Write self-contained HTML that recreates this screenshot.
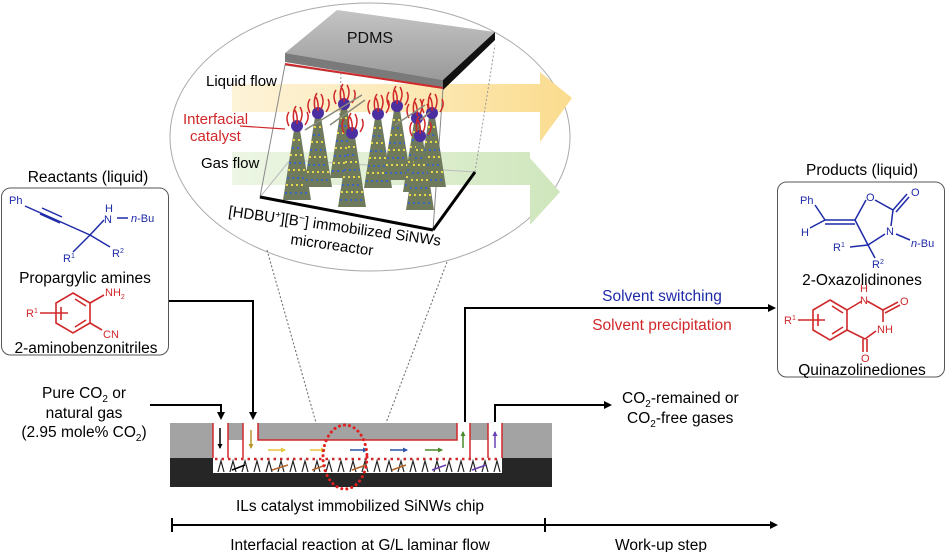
<!DOCTYPE html>
<html><head><meta charset="utf-8"><style>
html,body{margin:0;padding:0;background:#fff}
svg{display:block}
text{font-family:"Liberation Sans",Arial,sans-serif}
</style></head><body>
<svg width="946" height="552" viewBox="0 0 946 552" xmlns="http://www.w3.org/2000/svg">
<defs>
<linearGradient id="pd" x1="0" y1="0" x2="0" y2="1"><stop offset="0" stop-color="#c4c4c4"/><stop offset="1" stop-color="#9a9a9a"/></linearGradient>
<linearGradient id="yb" x1="0" y1="0" x2="1" y2="0"><stop offset="0" stop-color="#fbe7b0" stop-opacity="0.5"/><stop offset="1" stop-color="#fbdc8e"/></linearGradient>
<linearGradient id="gb" x1="0" y1="0" x2="1" y2="0"><stop offset="0" stop-color="#d9ecc8" stop-opacity="0.5"/><stop offset="1" stop-color="#cfe6bc"/></linearGradient>
<marker id="ah" markerWidth="8" markerHeight="8" refX="6" refY="4" orient="auto" markerUnits="userSpaceOnUse"><path d="M0,0 L8,4 L0,8 z" fill="#000"/></marker>
<marker id="sa" markerWidth="5" markerHeight="5" refX="4" refY="2.5" orient="auto" markerUnits="userSpaceOnUse"><path d="M0,0 L5,2.5 L0,5 z" fill="context-stroke"/></marker>
<g id="nw">
<path d="M-3,0 L3,0 L14,70 L-14,70 z" fill="#6f7a5c"/>
<path d="M-4,10 L4,10 M-7,25 L7,25 M-9,40 L9,40 M-11,55 L11,55" stroke="#e5d64a" stroke-width="2" stroke-dasharray="2,3"/>
<path d="M-5,18 L5,18 M-8,33 L8,33 M-10,48 L10,48 M-12,63 L12,63" stroke="#3a66c4" stroke-width="2" stroke-dasharray="2,3"/>
<circle cx="0" cy="-4" r="6" fill="#4b2fa0"/>
<path d="M-8,-4 q-4,-8 0,-14 M-3,-8 q-2,-10 2,-16 M3,-8 q4,-8 0,-15 M8,-5 q5,-7 2,-13 M0,-6 q1,-8 -2,-14" stroke="#d0282a" stroke-width="1.5" fill="none"/>
</g>
</defs>

<ellipse cx="370" cy="137" rx="200" ry="134" fill="#fff" stroke="#aaa" stroke-width="1"/>
<path d="M232,84 L540,84 L540,72 L572,98 L540,142 L540,112 L232,112 z" fill="url(#yb)"/>
<path d="M232,152 L530,152 L530,158 L560,192 L530,225 L530,185 L232,185 z" fill="url(#gb)"/>
<polygon points="285,65 443,88 433,230 260,197" fill="none" stroke="#888" stroke-width="1"/>
<polyline points="260,197 290,160 475,172" fill="none" stroke="#bbb" stroke-width="1"/>
<line x1="260" y1="197" x2="433" y2="230" stroke="#000" stroke-width="3"/>
<line x1="433" y1="230" x2="475" y2="172" stroke="#000" stroke-width="3"/>
<line x1="475" y1="172" x2="495" y2="45" stroke="#999" stroke-width="1" stroke-dasharray="2,2"/>
<line x1="341" y1="73" x2="338" y2="165" stroke="#999" stroke-width="1" stroke-dasharray="2,2"/>
<polygon points="337,10 495,32 443,80 285,53" fill="url(#pd)"/>
<polygon points="285,53 443,80 443,88 285,62" fill="#7a7a7a"/>
<polygon points="443,80 495,32 495,40 443,90" fill="#111"/>
<line x1="285" y1="64" x2="443" y2="88" stroke="#d0282a" stroke-width="2"/>
<text x="370" y="43" font-size="16" text-anchor="middle" fill="#111">PDMS</text>
<use href="#nw" x="297" y="130"/>
<use href="#nw" x="318" y="117"/>
<use href="#nw" x="344" y="108"/>
<use href="#nw" x="378" y="118"/>
<use href="#nw" x="397" y="110"/>
<use href="#nw" x="417" y="122"/>
<use href="#nw" x="432" y="117"/>
<use href="#nw" x="352" y="137"/>
<use href="#nw" x="420" y="140"/>
<g stroke="#8a8a7a" stroke-width="1.5"><line x1="305" y1="130" x2="362" y2="95"/><line x1="330" y1="125" x2="365" y2="100"/><line x1="395" y1="125" x2="425" y2="105"/><line x1="420" y1="120" x2="430" y2="112"/></g>
<text x="206" y="86" font-size="15">Liquid flow</text>
<text x="183" y="124" font-size="15" fill="#d0282a">Interfacial</text>
<text x="190" y="141" font-size="15" fill="#d0282a">catalyst</text>
<line x1="240" y1="126" x2="285" y2="129" stroke="#d0282a" stroke-width="1.2"/>
<text x="201" y="168" font-size="15">Gas flow</text>
<text x="228" y="216" font-size="15" transform="rotate(8 228 216)">[HDBU<tspan font-size="10" dy="-5">+</tspan><tspan dy="5">][B</tspan><tspan font-size="10" dy="-5">−</tspan><tspan dy="5">] immobilized SiNWs</tspan></text>
<text x="290" y="244" font-size="15" transform="rotate(8 290 244)">microreactor</text>

<line x1="267" y1="250" x2="326" y2="458" stroke="#666" stroke-dasharray="2,2"/>
<line x1="447" y1="262" x2="372" y2="460" stroke="#666" stroke-dasharray="2,2"/>

<text x="88" y="182" font-size="15.5" text-anchor="middle">Reactants (liquid)</text>
<rect x="1.5" y="188" width="167" height="167" rx="9" fill="none" stroke="#555"/>
<g stroke="#1e2aa8" stroke-width="1.5" fill="none">
<line x1="25" y1="206" x2="90" y2="235"/><line x1="42" y1="208" x2="62" y2="217"/><line x1="40" y1="214" x2="60" y2="223"/>
<line x1="90" y1="235" x2="104" y2="220"/><line x1="90" y1="235" x2="73" y2="252"/><line x1="90" y1="235" x2="110" y2="247"/>
<line x1="117" y1="218" x2="128" y2="218"/></g>
<g fill="#1e2aa8" font-size="11"><text x="9" y="204">Ph</text><text x="105" y="212">H</text><text x="104" y="223">N</text><text x="131" y="222"><tspan font-style="italic">n</tspan>-Bu</text><text x="63" y="262">R<tspan font-size="7" dy="-4">1</tspan></text><text x="112" y="257">R<tspan font-size="7" dy="-4">2</tspan></text></g>
<text x="85" y="283" font-size="15.5" text-anchor="middle">Propargylic amines</text>
<g stroke="#d0282a" stroke-width="1.6" fill="none">
<polygon points="73,293 90,303 90,323 73,333 56,323 56,303"/>
<line x1="61" y1="307" x2="61" y2="320"/><line x1="75" y1="299" x2="86" y2="306"/><line x1="75" y1="327" x2="86" y2="320"/>
<line x1="90" y1="303" x2="104" y2="295"/><line x1="90" y1="323" x2="102" y2="330"/><line x1="40" y1="313" x2="68" y2="313"/></g>
<g fill="#d0282a" font-size="11"><text x="105" y="296">NH<tspan font-size="7" dy="3">2</tspan></text><text x="103" y="338">CN</text><text x="26" y="317">R<tspan font-size="7" dy="-4">1</tspan></text></g>
<text x="86" y="353" font-size="15.5" text-anchor="middle">2-aminobenzonitriles</text>

<text x="862" y="175" font-size="15.5" text-anchor="middle">Products (liquid)</text>
<rect x="777.5" y="182" width="167" height="195" rx="9" fill="none" stroke="#555"/>
<g stroke="#1e2aa8" stroke-width="1.5" fill="none">
<line x1="815" y1="205" x2="825" y2="220"/><line x1="810" y1="228" x2="825" y2="220"/>
<line x1="825" y1="220" x2="855" y2="220"/><line x1="825" y1="224" x2="855" y2="224"/>
<line x1="855" y1="220" x2="866" y2="200"/><line x1="875" y1="200" x2="893" y2="210"/><line x1="893" y1="210" x2="907" y2="194"/><line x1="896" y1="212" x2="909" y2="197"/>
<line x1="893" y1="210" x2="891" y2="226"/><line x1="885" y1="234" x2="868" y2="245"/><line x1="868" y1="245" x2="855" y2="220"/>
<line x1="868" y1="245" x2="850" y2="247"/><line x1="868" y1="245" x2="875" y2="258"/><line x1="896" y1="234" x2="910" y2="240"/></g>
<g fill="#1e2aa8" font-size="11"><text x="800" y="204">Ph</text><text x="801" y="236">H</text><text x="866" y="201">O</text><text x="911" y="196">O</text><text x="886" y="235">N</text><text x="911" y="247"><tspan font-style="italic">n</tspan>-Bu</text><text x="833" y="251">R<tspan font-size="7" dy="-4">1</tspan></text><text x="872" y="268">R<tspan font-size="7" dy="-4">2</tspan></text></g>
<text x="862" y="285" font-size="15.5" text-anchor="middle">2-Oxazolidinones</text>
<g stroke="#d0282a" stroke-width="1.6" fill="none">
<polygon points="830,300 847,310 847,330 830,340 813,330 813,310"/>
<line x1="818" y1="314" x2="818" y2="326"/><line x1="832" y1="306" x2="843" y2="313"/><line x1="832" y1="334" x2="843" y2="327"/>
<line x1="847" y1="310" x2="862" y2="301"/><line x1="867" y1="301" x2="883" y2="310"/><line x1="883" y1="310" x2="898" y2="302"/><line x1="885" y1="313" x2="900" y2="305"/>
<line x1="883" y1="310" x2="883" y2="322"/><line x1="876" y1="331" x2="865" y2="339"/><line x1="865" y1="339" x2="847" y2="330"/>
<line x1="863" y1="339" x2="863" y2="352"/><line x1="867" y1="339" x2="867" y2="352"/><line x1="798" y1="320" x2="825" y2="320"/></g>
<g fill="#d0282a" font-size="11"><text x="860" y="292">H</text><text x="860" y="304">N</text><text x="900" y="305">O</text><text x="877" y="333">NH</text><text x="861" y="362">O</text><text x="784" y="324">R<tspan font-size="7" dy="-4">1</tspan></text></g>
<text x="862" y="375" font-size="15.5" text-anchor="middle">Quinazolinediones</text>

<rect x="170" y="423" width="382" height="35" fill="#a3a3a3"/>
<rect x="170" y="458" width="382" height="29" fill="#262626"/>
<rect x="213" y="423" width="15" height="35" fill="#fff"/>
<rect x="243" y="423" width="15" height="35" fill="#fff"/>
<rect x="457" y="423" width="13" height="35" fill="#fff"/>
<rect x="488" y="423" width="14" height="35" fill="#fff"/>
<rect x="213" y="440" width="289" height="33" fill="#fff"/>
<g stroke="#d0282a" stroke-width="1.5" fill="none">
<line x1="213" y1="423" x2="213" y2="458"/><line x1="228" y1="423" x2="228" y2="458"/><line x1="243" y1="423" x2="243" y2="458"/>
<polyline points="258,423 258,440 457,440 457,423"/>
<line x1="470" y1="423" x2="470" y2="458"/><line x1="488" y1="423" x2="488" y2="458"/><line x1="502" y1="423" x2="502" y2="458"/></g>
<line x1="215" y1="459" x2="500" y2="459" stroke="#d0282a" stroke-width="2.5" stroke-dasharray="2.5,4"/>
<g stroke="#222" stroke-width="1.2"><path d="M218,472 l3,-11 l3,11 M230,472 l3,-11 l3,11 M242,472 l3,-11 l3,11 M254,472 l3,-11 l3,11 M266,472 l3,-11 l3,11 M278,472 l3,-11 l3,11 M290,472 l3,-11 l3,11 M302,472 l3,-11 l3,11 M314,472 l3,-11 l3,11 M326,472 l3,-11 l3,11 M338,472 l3,-11 l3,11 M350,472 l3,-11 l3,11 M362,472 l3,-11 l3,11 M374,472 l3,-11 l3,11 M386,472 l3,-11 l3,11 M398,472 l3,-11 l3,11 M410,472 l3,-11 l3,11 M422,472 l3,-11 l3,11 M434,472 l3,-11 l3,11 M446,472 l3,-11 l3,11 M458,472 l3,-11 l3,11 M470,472 l3,-11 l3,11 M482,472 l3,-11 l3,11 M494,472 l3,-11 l3,11" fill="none"/></g>
<g stroke-width="1.5"><line x1="232" y1="470" x2="245" y2="465" stroke="#000"/><line x1="272" y1="470" x2="288" y2="465" stroke="#b5652a"/><line x1="312" y1="470" x2="326" y2="465" stroke="#b5652a"/><line x1="352" y1="470" x2="366" y2="465" stroke="#b5652a"/><line x1="392" y1="470" x2="406" y2="465" stroke="#b5652a"/><line x1="432" y1="470" x2="446" y2="465" stroke="#6a3fb0"/><line x1="472" y1="470" x2="486" y2="465" stroke="#6a3fb0"/></g>
<g stroke-width="1.5" marker-end="url(#sa)"><line x1="220" y1="428" x2="220" y2="448" stroke="#000"/><line x1="251" y1="430" x2="251" y2="448" stroke="#b8962a"/>
<line x1="268" y1="450" x2="285" y2="450" stroke="#e8c43a"/><line x1="310" y1="450" x2="325" y2="450" stroke="#e8c43a"/><line x1="350" y1="450" x2="367" y2="450" stroke="#2b56a8"/><line x1="390" y1="450" x2="407" y2="450" stroke="#2b56a8"/><line x1="425" y1="450" x2="442" y2="450" stroke="#4a8a2a"/><line x1="463" y1="448" x2="463" y2="432" stroke="#4a8a2a"/><line x1="495" y1="448" x2="495" y2="432" stroke="#6a3fb0"/></g>
<ellipse cx="345" cy="457" rx="22" ry="32" fill="none" stroke="#e0201e" stroke-width="3" stroke-dasharray="0.1,5" stroke-linecap="round"/>
<text x="360" y="511" font-size="15.5" text-anchor="middle">ILs catalyst immobilized SiNWs chip</text>

<g stroke="#000" stroke-width="2" fill="none">
<polyline points="150,405 221,405 221,418" marker-end="url(#ah)"/>
<polyline points="169,301 253,301 253,418" marker-end="url(#ah)"/>
<polyline points="465,422 465,308 774,308" marker-end="url(#ah)"/>
<polyline points="495,422 495,405 610,405" marker-end="url(#ah)"/>
</g>
<text x="84" y="398" font-size="15.5" text-anchor="middle">Pure CO<tspan font-size="10" dy="4">2</tspan><tspan dy="-4"> or</tspan></text>
<text x="84" y="418" font-size="15.5" text-anchor="middle">natural gas</text>
<text x="84" y="437" font-size="15.5" text-anchor="middle">(2.95 mole% CO<tspan font-size="10" dy="4">2</tspan><tspan dy="-4">)</tspan></text>
<text x="662" y="301" font-size="15.5" text-anchor="middle" fill="#1e2aa8">Solvent switching</text>
<text x="662" y="330" font-size="15.5" text-anchor="middle" fill="#d0282a">Solvent precipitation</text>
<text x="622" y="403" font-size="15.5">CO<tspan font-size="10" dy="4">2</tspan><tspan dy="-4">-remained or</tspan></text>
<text x="627" y="423" font-size="15.5">CO<tspan font-size="10" dy="4">2</tspan><tspan dy="-4">-free gases</tspan></text>

<g stroke="#000" stroke-width="2" fill="none">
<line x1="172" y1="525" x2="545" y2="525"/><line x1="172" y1="518" x2="172" y2="532"/><line x1="545" y1="518" x2="545" y2="532"/>
<line x1="545" y1="525" x2="776" y2="525" marker-end="url(#ah)"/></g>
<text x="360" y="550" font-size="15.5" text-anchor="middle">Interfacial reaction at G/L laminar flow</text>
<text x="661" y="550" font-size="15.5" text-anchor="middle">Work-up step</text>
</svg>
</body></html>
